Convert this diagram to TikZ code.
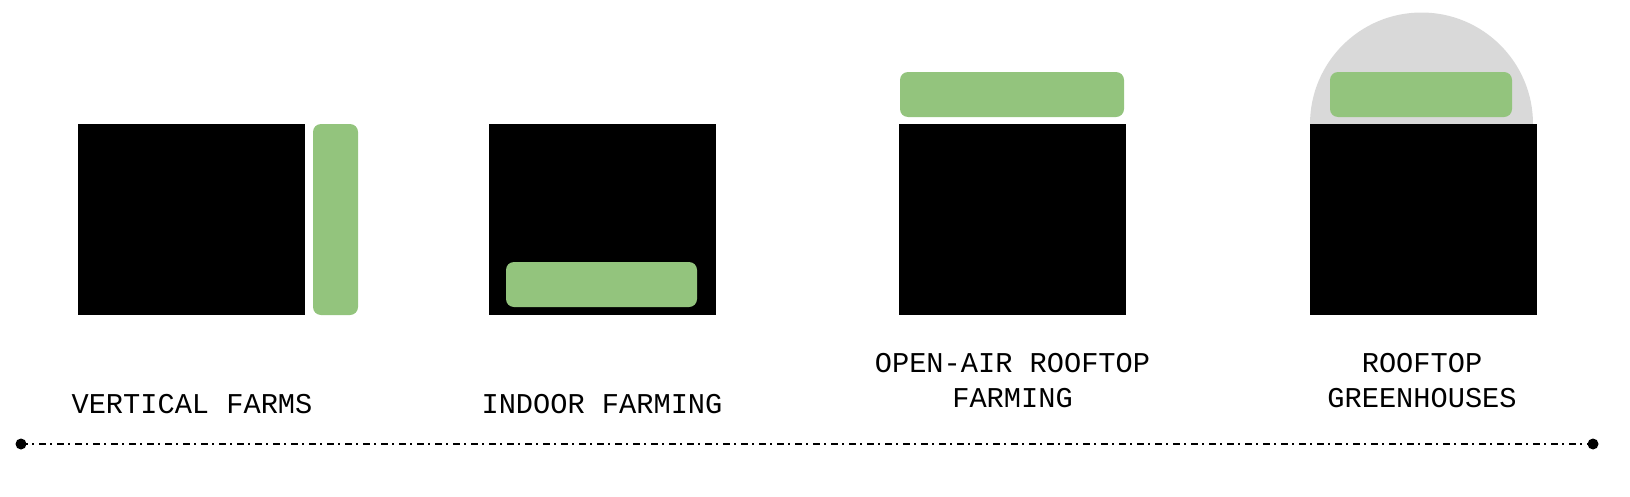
\documentclass[tikz,border=0pt]{standalone}
\usepackage{fontspec}
\setmainfont{Liberation Mono}
\definecolor{leaf}{HTML}{93C47D}
\definecolor{dome}{HTML}{D9D9D9}
\begin{document}
\begin{tikzpicture}[x=0.75pt,y=-0.75pt,
  building/.style={fill=black},
  plant/.style={fill=leaf,rounded corners=6pt},
  label/.style={font=\fontsize{21.5pt}{26.25pt}\selectfont,align=center,inner sep=0pt,anchor=center},
  dot/.style={circle,fill=black,inner sep=0pt,minimum size=8.25pt}]
\useasboundingbox (0,0) rectangle (1630,496);
% Vertical farms
\fill[building] (78,124) rectangle (305,315);
\fill[plant] (313,124) rectangle (358,315);
% Indoor farming
\fill[building] (489,124) rectangle (716,315);
\fill[plant] (506,262) rectangle (697,307);
% Open-air rooftop farming
\fill[building] (899,124) rectangle (1126,315);
\fill[plant] (900,72) rectangle (1124,117);
% Rooftop greenhouses
\fill[dome] (1310,124) arc[start angle=180,end angle=360,radius=111.5] -- cycle;
\fill[building] (1310,124) rectangle (1537,315);
\fill[plant] (1330,72) rectangle (1512,117);
% Labels
\node[label] (l1) at (192,404) {VERTICAL FARMS};
\node[label] (l2) at (602,404) {INDOOR FARMING};
\node[label] (l3) at (1012.5,381) {OPEN-AIR ROOFTOP\\FARMING};
\node[label] (l4) at (1422,381) {ROOFTOP\\GREENHOUSES};
% Timeline
\node[dot] (s) at (21,444) {};
\node[dot] (e) at (1593,444) {};
\draw[line width=1.6pt,dash pattern=on 5pt off 3.5pt on 1.5pt off 3.5pt] (s.center) -- (e.center);
\end{tikzpicture}
\end{document}
